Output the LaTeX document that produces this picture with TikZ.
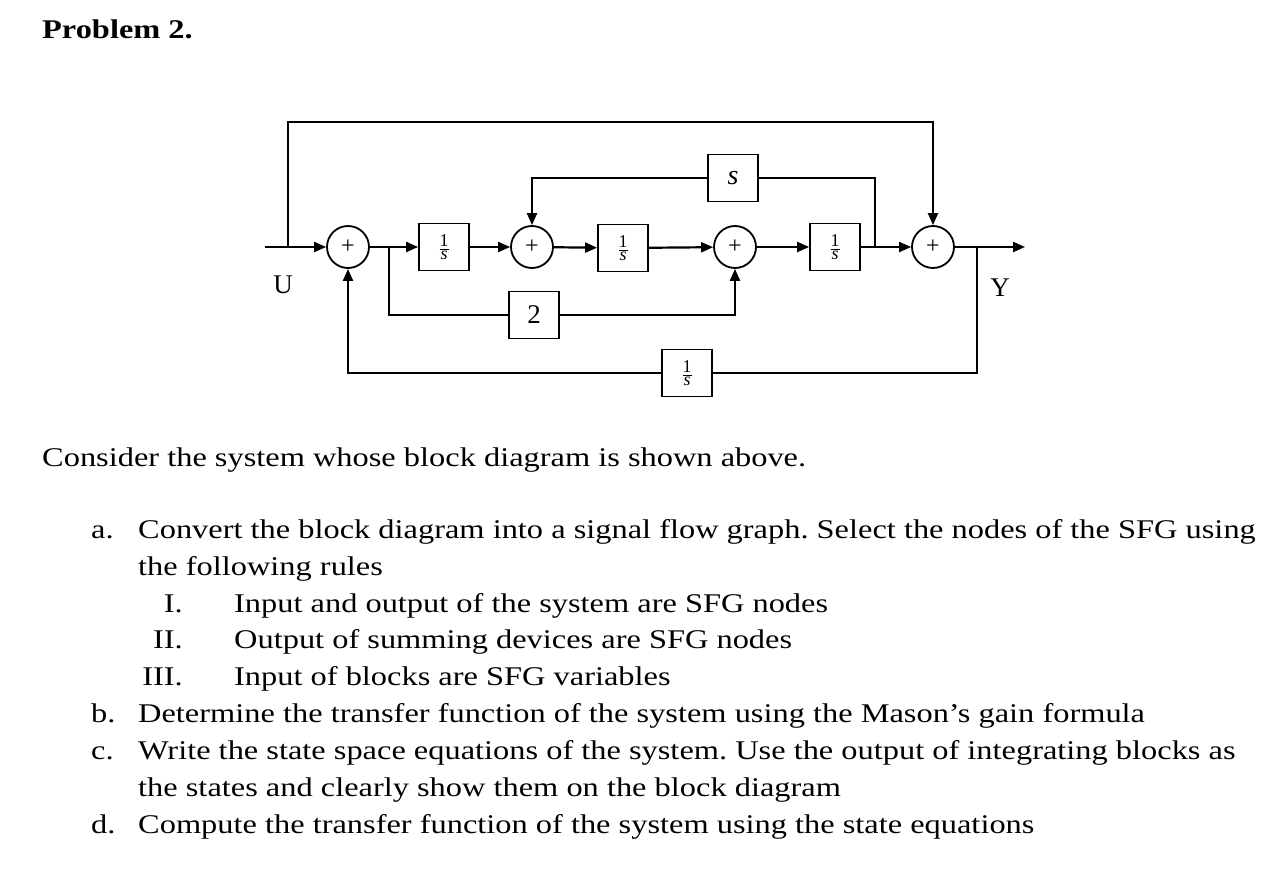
\documentclass[tikz,border=0pt]{standalone}
\usepackage{fontspec}
\setmainfont{Liberation Serif}[FakeStretch=1.2]
\newfontfamily\diag{Liberation Serif}
\usetikzlibrary{arrows.meta}
\newcommand{\invs}{$\frac{\mbox{1}}{\mbox{\itshape s}}$}
\begin{document}
\frenchspacing
\begin{tikzpicture}[x=1pt,y=-1pt,
    sig/.style={line width=2.2pt,-{Triangle[length=12pt,width=10pt]}},
    wire/.style={line width=2.2pt},
    sum/.style={circle,draw,line width=1.8pt,minimum size=42pt,inner sep=0pt,font=\diag\fontsize{24}{26}\selectfont},
    blk/.style={draw,line width=1.8pt,minimum width=50pt,minimum height=47pt,inner sep=0pt,font=\diag\fontsize{18}{20}\selectfont},
    txt/.style={anchor=base west,inner sep=0pt,font=\fontsize{27}{30}\selectfont},
    lbl/.style={inner sep=0pt,font=\diag\fontsize{27}{28}\selectfont}]
  \useasboundingbox (0,0) rectangle (1280,874);
  % title
  \node[txt,font=\fontsize{27}{30}\selectfont\bfseries] (title) at (42,39) {Problem 2.};
  % diagram nodes
  \coordinate (in) at (265,247);
  \coordinate (outend) at (1025,247);
  \node[sum] (s1) at (348,247) {+};
  \node[sum] (s2) at (532,247) {+};
  \node[sum] (s3) at (735,247) {+};
  \node[sum] (s4) at (933,247) {+};
  \node[blk] (b1) at (444,247) {\invs};
  \node[blk] (b2) at (623,248) {\invs};
  \node[blk] (b3) at (835,247) {\invs};
  \node[blk,font=\diag\itshape\fontsize{28}{30}\selectfont] (bs) at (733,178) {s};
  \node[blk,font=\diag\fontsize{27}{28}\selectfont] (b2k) at (534,315) {2};
  \node[blk] (b4) at (687,373) {\invs};
  \node[lbl] (U) at (283,285) {U};
  \node[lbl] (Y) at (1000,288) {Y};
  % branch points
  \coordinate (pu) at (288,247);
  \coordinate (p1) at (389,247);
  \coordinate (p3) at (875,247);
  \coordinate (py) at (977,247);
  % forward path
  \draw[sig] (in) -- (s1);
  \draw[sig] (s1) -- (b1);
  \draw[sig] (b1) -- (s2);
  \draw[sig] (s2) -- (b2);
  \draw[sig] (b2) -- (s3);
  \draw[sig] (s3) -- (b3);
  \draw[sig] (b3) -- (s4);
  \draw[sig] (s4) -- (outend);
  % feedforward from U
  \draw[sig] (pu) |- (933,122) -- (s4);
  % s block loop
  \draw[wire] (p3) |- (bs);
  \draw[sig] (bs) -| (s2);
  % gain 2 path
  \draw[wire] (p1) |- (b2k);
  \draw[sig] (b2k) -| (s3);
  % bottom feedback
  \draw[wire] (py) |- (b4);
  \draw[sig] (b4) -| (s1);
  % text
  \node[txt] (t0) at (42,466) {Consider the system whose block diagram is shown above.};
  \node[txt] (a) at (91,538) {a.};
  \node[txt] (a1) at (138,538) {Convert the block diagram into a signal flow graph. Select the nodes of the SFG using};
  \node[txt] (a2) at (138,575) {the following rules};
  \node[txt,anchor=base east] (r1) at (183,612) {I.};
  \node[txt] (r1t) at (234,612) {Input and output of the system are SFG nodes};
  \node[txt,anchor=base east] (r2) at (183,648) {II.};
  \node[txt] (r2t) at (234,648) {Output of summing devices are SFG nodes};
  \node[txt,anchor=base east] (r3) at (183,685) {III.};
  \node[txt] (r3t) at (234,685) {Input of blocks are SFG variables};
  \node[txt] (b) at (91,722) {b.};
  \node[txt] (bt) at (138,722) {Determine the transfer function of the system using the Mason’s gain formula};
  \node[txt] (c) at (91,759) {c.};
  \node[txt] (ct) at (138,759) {Write the state space equations of the system. Use the output of integrating blocks as};
  \node[txt] (ct2) at (138,796) {the states and clearly show them on the block diagram};
  \node[txt] (d) at (91,833) {d.};
  \node[txt] (dt) at (138,833) {Compute the transfer function of the system using the state equations};
\end{tikzpicture}
\end{document}
